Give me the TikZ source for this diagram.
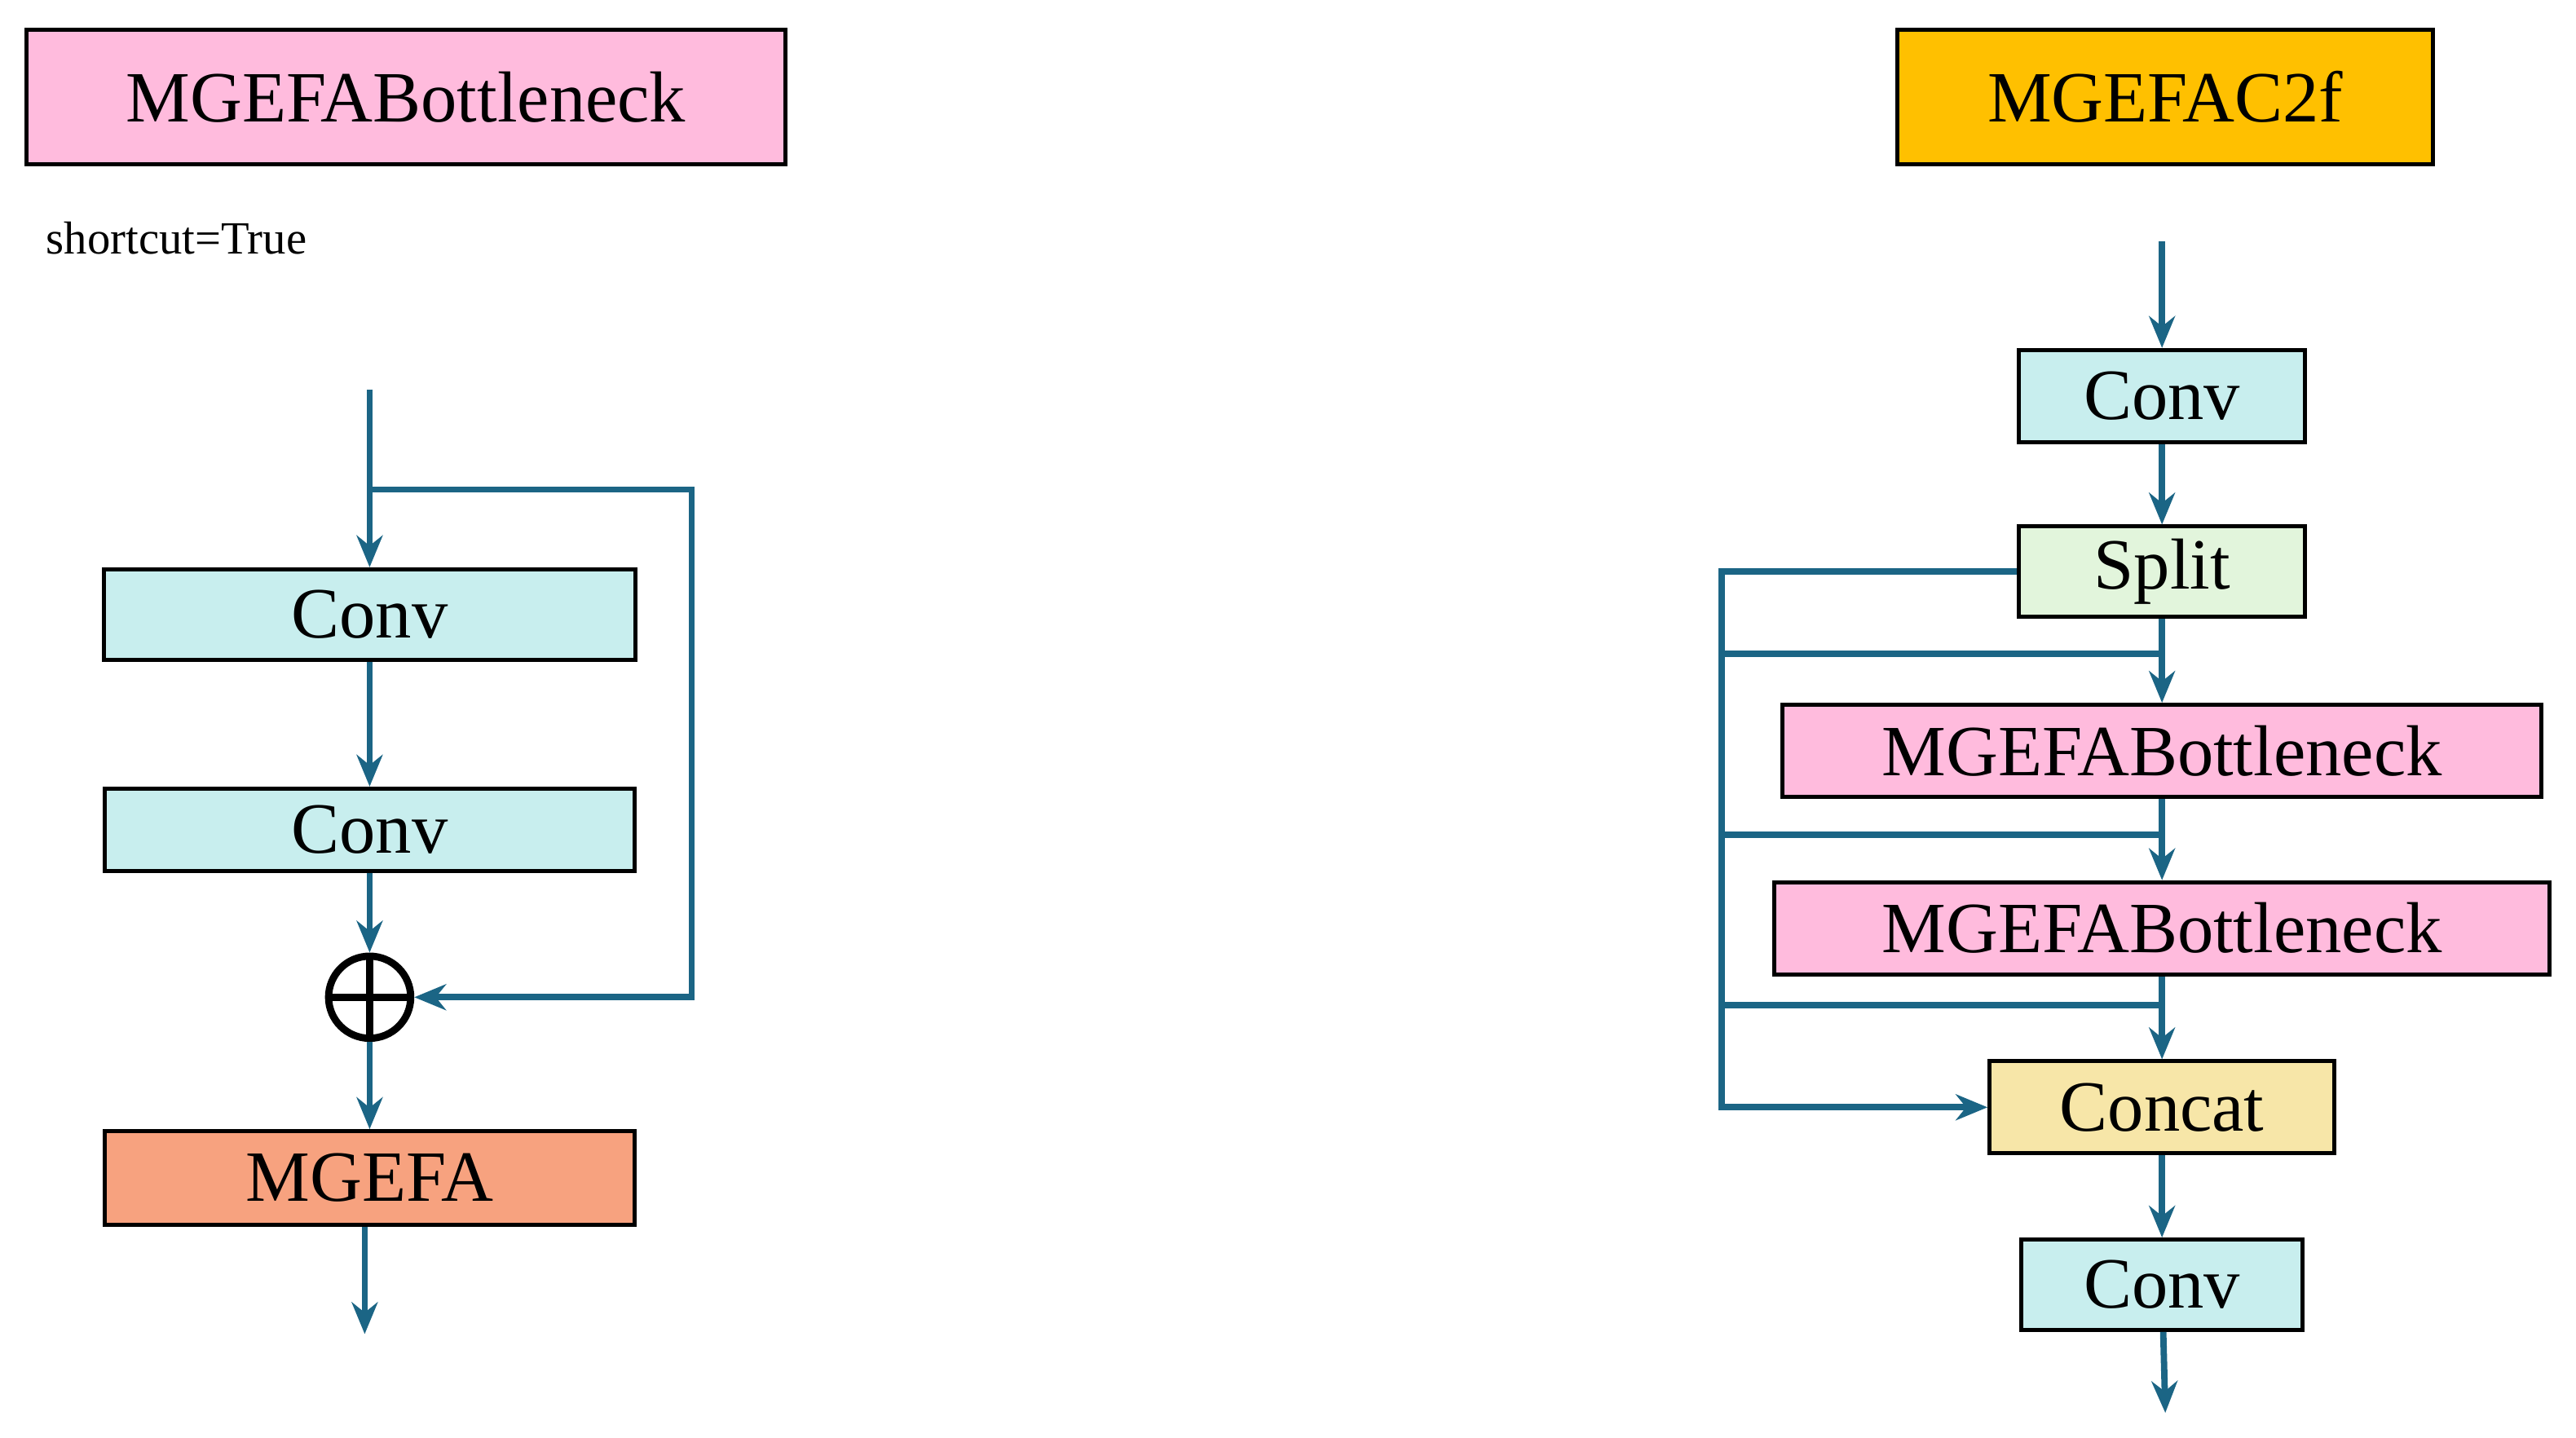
\documentclass[tikz,border=0pt]{standalone}
\usepackage{fontspec}
\setmainfont{Liberation Serif}
\usetikzlibrary{positioning}
\usetikzlibrary{arrows.meta}
\usepackage{xcolor}
\definecolor{flow}{HTML}{1B6585}
\definecolor{convc}{HTML}{C8EEEE}
\definecolor{pinkc}{HTML}{FFBBDD}
\definecolor{gold}{HTML}{FFC000}
\definecolor{splitc}{HTML}{E2F5DC}
\definecolor{concatc}{HTML}{F7E6A8}
\definecolor{mgefac}{HTML}{F7A27F}

\begin{document}
\begin{tikzpicture}[x=0.02cm, y=-0.02cm,
  box/.style={rectangle, draw, line width=1.4pt, inner sep=0pt, font=\fontsize{25}{28}\selectfont},
  arr/.style={draw=flow, line width=2.2pt, -{Stealth[length=11pt,width=9pt]}},
  ln/.style={draw=flow, line width=2.2pt}]
\useasboundingbox (0,0) rectangle (1568,875);

% Left: bottleneck
\node (title1) [box, fill=pinkc, minimum width=9.24cm, minimum height=1.64cm] at (247,59) {MGEFABottleneck};
\node (short) [anchor=west, font=\fontsize{16}{19}\selectfont] at (22,145) {shortcut=True};
\coordinate (in1) at (225,237);
\node (conv1) [box, fill=convc, minimum width=6.48cm, minimum height=1.1cm] at (225,374) {Conv};
\node (conv2) [box, fill=convc, minimum width=6.46cm, minimum height=1cm] at (225,505) {Conv};
\node (add) [circle, draw, line width=2.5pt, minimum size=1cm, inner sep=0pt] at (225,607) {};
\draw[line width=2.5pt] (add.north) -- (add.south) (add.west) -- (add.east);
\node (mgefa) [box, fill=mgefac, minimum width=6.46cm, minimum height=1.14cm] at (225,717) {MGEFA};
\coordinate (out1) at (222,812);

\draw[arr] (in1) -- (conv1);
\draw[arr] (conv1) -- (conv2);
\draw[arr] (conv2) -- (add);
\draw[arr] (add) -- (mgefa);
\draw[arr] (mgefa.south -| out1) -- (out1);
\draw[arr] (225,298) -- (421,298) -- (421,607) -- (add.east);

% Right: C2f
\node (title2) [box, fill=gold, minimum width=6.52cm, minimum height=1.64cm] at (1318,59) {MGEFAC2f};
\coordinate (in2) at (1316,147);
\node (conv3) [box, fill=convc, minimum width=3.48cm, minimum height=1.12cm] at (1316,241) {Conv};
\node (split) [box, fill=splitc, minimum width=3.48cm, minimum height=1.1cm] at (1316,348) {Split};
\node (mb1) [box, fill=pinkc, minimum width=9.24cm, minimum height=1.12cm] at (1316,457) {MGEFABottleneck};
\node (mb2) [box, fill=pinkc, minimum width=9.44cm, minimum height=1.12cm] at (1316,565) {MGEFABottleneck};
\node (concat) [box, fill=concatc, minimum width=4.2cm, minimum height=1.12cm] at (1316,674) {Concat};
\node (conv4) [box, fill=convc, minimum width=3.42cm, minimum height=1.1cm] at (1316,782) {Conv};
\coordinate (out2) at (1318,860);

\draw[arr] (in2) -- (conv3);
\draw[arr] (conv3) -- (split);
\draw[arr] (split) -- (mb1);
\draw[arr] (mb1) -- (mb2);
\draw[arr] (mb2) -- (concat);
\draw[arr] (concat) -- (conv4);
\draw[arr] (conv4) -- (out2);
\draw[arr] (split.west) -- (1048,348) -- (1048,674) -- (concat.west);
\draw[ln] (1048,398) -- (1316,398);
\draw[ln] (1048,508) -- (1316,508);
\draw[ln] (1048,612) -- (1316,612);
\end{tikzpicture}
\end{document}
